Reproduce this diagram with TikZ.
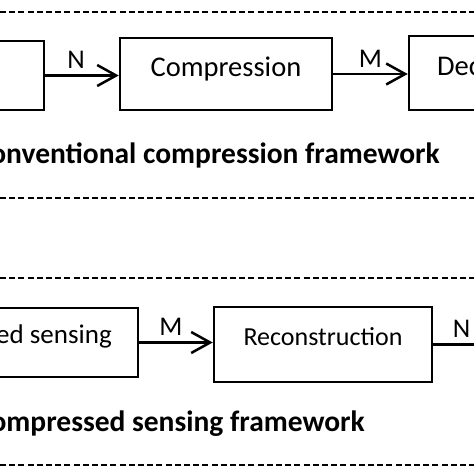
\documentclass[tikz,border=0pt]{standalone}
\usepackage{fontspec}
\setmainfont{Carlito}
\usepackage{tikz}
\usetikzlibrary{arrows.meta,positioning}
\tikzstyle{block}     = [rectangle, draw=black, line width=2.5pt, inner sep=0pt, text height=20pt, text depth=15pt, font=\fontsize{28.5}{30}\selectfont]
\tikzstyle{lowblock}  = [block, text depth=19pt, font=\fontsize{26}{28}\selectfont]
\tikzstyle{arrow}     = [line width=2.5pt, -{Straight Barb[length=19pt, width=21pt, line width=2.5pt]}]
\tikzstyle{sep}       = [line width=2.5pt, dash pattern=on 6pt off 3.2pt]
\tikzstyle{lbl}       = [above=2pt, font=\fontsize{27}{29}\selectfont]
\tikzstyle{caption}   = [anchor=base east, inner sep=0pt, font=\bfseries\fontsize{29.5}{31}\selectfont]

\begin{document}
\begin{tikzpicture}[x=1pt, y=-1pt]
        \useasboundingbox (0,0) rectangle (474,474);
        \clip (0,0) rectangle (474,474);

        % separators
        \draw[sep] (0,12) -- (474,12);
        \draw[sep] (0,198) -- (474,198);
        \draw[sep] (0,278) -- (474,278);
        \draw[sep] (0,465) -- (474,465);

        % conventional compression framework
        \node[block, minimum width=164pt, minimum height=69pt] (sampling) at (-38,75.5) {};
        \node[block, minimum width=212pt, minimum height=72pt] (compress) at (226,74) {Compression};
        \node[block, minimum width=235pt, minimum height=74pt] (decompress) at (526.5,73) {Decompression};

        \draw[arrow] (sampling.east) -- (sampling.east -| compress.west) node[lbl, pos=0.42] {N};
        \draw[arrow] (compress.east) -- (compress.east -| decompress.west) node[lbl, midway] {M};

        \node[caption] (convtitle) at (440,163) {Conventional compression framework};

        % compressed sensing framework
        \node[lowblock, minimum width=276pt, minimum height=69pt, font=\fontsize{27}{29}\selectfont] (sensing) at (0,342.5) {Compressed sensing};
        \node[lowblock, minimum width=218pt, minimum height=75pt] (recon) at (323,344.5) {Reconstruction};
        \coordinate (out) at (490,347);

        \draw[arrow] (sensing.east) -- (sensing.east -| recon.west) node[lbl, pos=0.43] {M};
        \draw[line width=2.5pt] (recon.east) -- (recon.east -| out) node[lbl, pos=0.5] {N};

        \node[caption] (cstitle) at (365,431) {Compressed sensing framework};
\end{tikzpicture}
\end{document}
